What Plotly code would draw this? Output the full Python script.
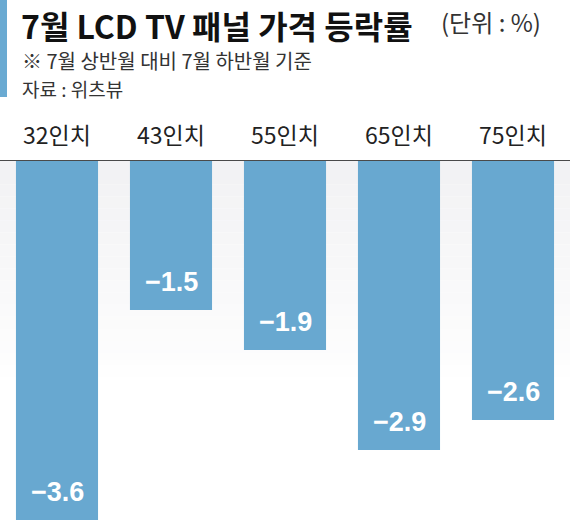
import plotly.graph_objects as go

# data
categories = ["32인치", "43인치", "55인치", "65인치", "75인치"]
values = [-3.6, -1.5, -1.9, -2.9, -2.6]
value_labels = ["\u2212" + f"{abs(v):.1f}" for v in values]

title_main = "7월 LCD TV 패널 가격 등락률"
title_unit = "(단위 : %)"
note = "※ 7월 상반월 대비 7월 하반월 기준"
source = "자료 : 위츠뷰"

W, H = 570, 522
TOP = 160  # pixel row of the zero line
PLOT_H = H - TOP

KR = "Noto Sans CJK KR"
NUM = "Liberation Sans Narrow, Liberation Sans, Arial, sans-serif"
BAR_COLOR = "#68a8d0"


def py(px):
    # pixel row (from top of page) -> paper y
    return 1 + (TOP - px) / PLOT_H


fig = go.Figure()
fig.add_trace(go.Bar(
    x=categories, y=values,
    marker=dict(color=BAR_COLOR, line=dict(width=0)),
    hoverinfo="skip",
))

# soft grey -> white background inside the plot
shapes = []
bands = 30
for i in range(bands):
    t = i / bands
    k = min(1.0, t / 0.6)
    r = int(242 + (255 - 242) * k)
    g = int(242 + (255 - 242) * k)
    b = int(244 + (255 - 244) * k)
    shapes.append(dict(type="rect", xref="paper", yref="paper",
                       x0=0, x1=1, y0=1 - (i + 1) / bands, y1=1 - i / bands,
                       fillcolor=f"rgb({r},{g},{b})", line=dict(width=0),
                       layer="below"))

# zero line
shapes.append(dict(type="line", xref="paper", yref="y", x0=0, x1=1, y0=0, y1=0,
                   line=dict(color="#4a4a4a", width=2), layer="above"))
# blue strip by the heading
shapes.append(dict(type="rect", xref="paper", yref="paper",
                   x0=0, x1=7 / W, y0=py(97), y1=py(0),
                   fillcolor="#6aaad2", line=dict(width=0)))

annotations = [
    dict(text=f"<b>{title_main}</b>", x=19 / W, y=py(0), xref="paper", yref="paper",
         xanchor="left", yanchor="top", showarrow=False,
         font=dict(family=KR, size=32, color="#111111")),
    dict(text=title_unit, x=439 / W, y=py(21), xref="paper", yref="paper",
         xanchor="left", yanchor="middle", showarrow=False,
         font=dict(family=KR, size=24, color="#333333")),
    dict(text=note, x=20 / W, y=py(61), xref="paper", yref="paper",
         xanchor="left", yanchor="middle", showarrow=False,
         font=dict(family=KR, size=20, color="#333333")),
    dict(text=source, x=20 / W, y=py(88), xref="paper", yref="paper",
         xanchor="left", yanchor="middle", showarrow=False,
         font=dict(family=KR, size=19, color="#333333")),
]

for c in categories:
    annotations.append(dict(text=c, x=c, y=py(134), xref="x", yref="paper",
                            xanchor="center", yanchor="middle", showarrow=False,
                            font=dict(family=KR, size=23, color="#222222")))

for c, v, lab in zip(categories, values, value_labels):
    annotations.append(dict(text=f"<b>{lab}</b>", x=c, y=v, xref="x", yref="y",
                            yshift=28, xanchor="center", yanchor="middle",
                            showarrow=False,
                            font=dict(family=NUM, size=27, color="white")))

fig.update_layout(
    width=W, height=H,
    margin=dict(l=0, r=0, t=TOP, b=0),
    paper_bgcolor="white", plot_bgcolor="white",
    showlegend=False,
    bargap=0.28,
    xaxis=dict(showticklabels=False, showgrid=False, zeroline=False,
               range=[-0.5, 4.5], fixedrange=True),
    yaxis=dict(range=[-3.62, 0], showticklabels=False, showgrid=False,
               zeroline=False, fixedrange=True),
    shapes=shapes,
    annotations=annotations,
)

# page has a default 8px body margin; drop it so the chart sits at 0,0
fig.write_html("out.html", config={"displayModeBar": False},
               post_script="document.body.style.margin='0';")
